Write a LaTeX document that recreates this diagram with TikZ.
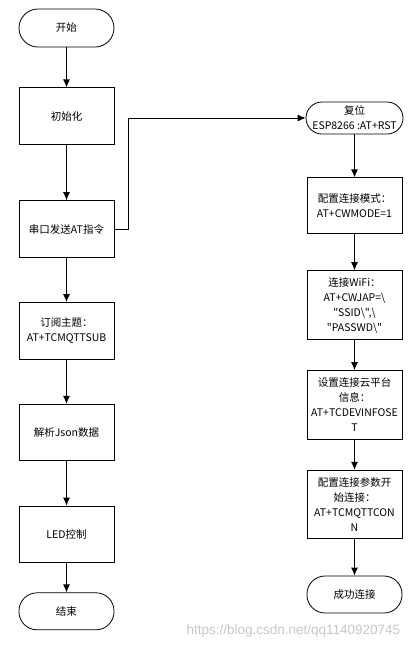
\documentclass[tikz,border=0pt]{standalone}
\usepackage{fontspec}
\setmainfont[Ligatures=TeXOff]{Noto Sans CJK SC}
\newfontfamily\markfont{Liberation Sans}
\usetikzlibrary{positioning, arrows.meta}

\tikzset{
    term/.style={rectangle, draw, rounded corners=18pt, minimum width=95pt, minimum height=37pt, inner xsep=1pt, align=center},
    proc/.style={rectangle, draw, minimum width=95pt, minimum height=57pt, inner xsep=1pt, align=center},
    flow/.style={-{Latex[length=8pt, width=7pt]}}
}

\begin{document}
\begin{tikzpicture}[line width=0.8pt, font=\fontsize{10.5}{15}\selectfont]
        \useasboundingbox (0,0) rectangle (413pt,-649pt);

        %-----Left Column-----

        % Start
        \node[term, minimum height=38pt, rounded corners=19pt] (start) at (66.5pt,-28pt) {开始};

        % Init
        \node[proc, below=40pt of start] (init) {初始化};

        % Send AT
        \node[proc, below=55pt of init] (send) {串口发送AT指令};

        % Subscribe
        \node[proc, below=44pt of send] (sub) {订阅主题：\\AT+TCMQTTSUB};

        % Parse Json
        \node[proc, minimum height=56pt, below=44pt of sub] (parse) {解析Json数据};

        % LED
        \node[proc, minimum height=56pt, below=45pt of parse] (led) {LED控制};

        % End
        \node[term, below=30pt of led] (stop) {结束};

        %-----Right Column-----

        % Reset
        \node[term, minimum width=97pt, minimum height=32pt, rounded corners=16pt, inner xsep=0pt] (reset) at (354.5pt,-118pt) {复位\\ESP8266 :AT+RST};

        % Mode
        \node[proc, minimum height=56pt, below=43pt of reset] (mode) {配置连接模式：\\AT+CWMODE=1};

        % WiFi
        \node[proc, minimum height=69pt, below=36pt of mode] (wifi) {连接WiFi：\\AT+CWJAP=\textbackslash\\"SSID\textbackslash",\textbackslash\\"PASSWD\textbackslash"};

        % Cloud info
        \node[proc, minimum height=69pt, below=30pt of wifi] (cloud) {设置连接云平台\\信息：\\AT+TCDEVINFOSE\\T};

        % Connect
        \node[proc, minimum height=68pt, below=30pt of cloud] (conn) {配置连接参数开\\始连接：\\AT+TCMQTTCON\\N};

        % Done
        \node[term, below=37pt of conn] (done) {成功连接};

        %-----Connectors-----
        \draw[flow] (start) -- (init);
        \draw[flow] (init) -- (send);
        \draw[flow] (send) -- (sub);
        \draw[flow] (sub) -- (parse);
        \draw[flow] (parse) -- (led);
        \draw[flow] (led) -- (stop);

        \draw[flow] (send.east) -- ++(14pt,0) |- (reset.west);

        \draw[flow] (reset) -- (mode);
        \draw[flow] (mode) -- (wifi);
        \draw[flow] (wifi) -- (cloud);
        \draw[flow] (cloud) -- (conn);
        \draw[flow] (conn) -- (done);

        % watermark
        \node[text=black!22, font=\markfont\fontsize{13.5}{15}\selectfont, anchor=east] (wmark) at (404pt,-631pt) {https://blog.csdn.net/qq1140920745};

    \end{tikzpicture}
\end{document}
